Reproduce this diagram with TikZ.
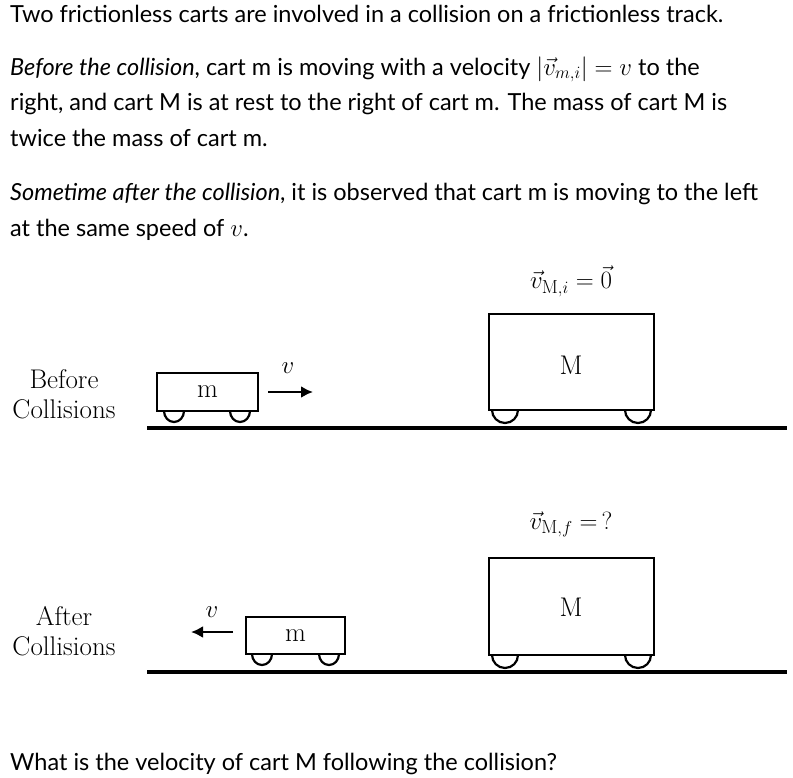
\documentclass[tikz,border=0pt]{standalone}
\usepackage{fontspec}
\usetikzlibrary{arrows.meta}
\newfontfamily\lato{Lato}
\begin{document}
\begin{tikzpicture}[x=1pt,y=-1pt,
  txt/.style={anchor=base west,inner sep=0,font=\lato\fontsize{23.5}{28}\selectfont},
  lab/.style={inner sep=0,font=\fontsize{27}{31}\selectfont},
  cart/.style={draw,line width=2.3pt,fill=white},
  wheel/.style={line width=2.2pt},
  ground/.style={line width=3.5pt},
  vec/.style={line width=2.3pt,-{Latex[length=12pt,width=12pt]}}]
\useasboundingbox (0,0) rectangle (793,777);
\node[txt] (t1) at (10,22) {Two frictionless carts are involved in a collision on a frictionless track.};
\node[txt] (t2) at (10,75) {\textit{Before the collision}, cart m is moving with a velocity $|\vec v_{m,i}|=v$ to the};
\node[txt] (t3) at (10,110) {right, and cart M is at rest to the right of cart m. The mass of cart M is};
\node[txt] (t4) at (10,146) {twice the mass of cart m.};
\node[txt] (t5) at (10,200) {\textit{Sometime after the collision}, it is observed that cart m is moving to the left};
\node[txt] (t6) at (10,236) {at the same speed of $v$.};
\node[txt] (t7) at (10,770) {What is the velocity of cart M following the collision?};
% labels
\node[lab,align=center] (bl) at (64,394) {Before\\[-1pt]Collisions};
\node[lab,align=center] (al) at (64,631) {After\\[-1pt]Collisions};
% grounds
\coordinate (g1a) at (147,428); \coordinate (g1b) at (787,428);
\draw[ground] (g1a) -- (g1b);
\coordinate (g2a) at (147,672); \coordinate (g2b) at (787,672);
\draw[ground] (g2a) -- (g2b);
% before cart m
\foreach \c in {174,240} \draw[wheel] (\c-10,411) arc[start angle=180,end angle=0,x radius=10,y radius=11];
\node[cart,minimum width=101,minimum height=38,inner sep=0,lab] (m1) at (207.5,392) {m};
\coordinate (a1s) at (268,392); \coordinate (a1e) at (313,392);
\draw[vec] (a1s) -- (a1e);
\node[lab] (v1) at (288,368) {$v$};
% before cart M
\foreach \c in {505,638} \draw[wheel] (\c-13,410) arc[start angle=180,end angle=0,x radius=13,y radius=13];
\node[cart,minimum width=165,minimum height=96,inner sep=0] (M1) at (571.5,362) {};
\node[lab] (M1l) at (571,365) {M};
\node[lab] (vMi) at (571,281) {$\vec v_{\mathrm{M},i}=\vec 0$};
% after cart m
\foreach \c in {262,329} \draw[wheel] (\c-10,654) arc[start angle=180,end angle=0,x radius=10,y radius=11];
\node[cart,minimum width=99,minimum height=37,inner sep=0,lab] (m2) at (295.5,635.5) {m};
\coordinate (a2s) at (233,632); \coordinate (a2e) at (191,632);
\draw[vec] (a2s) -- (a2e);
\node[lab] (v2) at (212,612) {$v$};
% after cart M
\foreach \c in {505,638} \draw[wheel] (\c-13,655) arc[start angle=180,end angle=0,x radius=13,y radius=13];
\node[cart,minimum width=165,minimum height=97,inner sep=0] (M2) at (571.5,606.5) {};
\node[lab] (M2l) at (571,607) {M};
\node[lab] (vMf) at (571,524) {$\vec v_{\mathrm{M},f}=\,?$};
\end{tikzpicture}
\end{document}
